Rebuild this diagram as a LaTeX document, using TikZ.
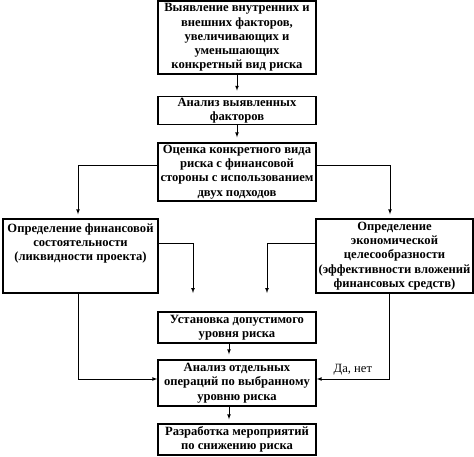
\documentclass[tikz,border=0pt]{standalone}
\usepackage{fontspec}
\setmainfont{Liberation Serif}
\usetikzlibrary{arrows,calc}
\tikzset{
  scheme/.style={
    block/.style={rectangle, draw, line width=1.4pt, align=center, inner sep=1.5pt,
        minimum width=158pt, font={\bfseries\fontsize{12.6}{14.2}\selectfont}},
    link/.style={line width=0.7pt, -latex, shorten >=5pt},
    side link/.style={line width=0.7pt, -latex},
    link label/.style={font={\fontsize{12.6}{14.2}\selectfont}},
  },
}

\begin{document}
\begin{tikzpicture}
[
    scheme,
    x=1pt, y=-1pt,
]
    \useasboundingbox (0,0) rectangle (474,456);
    % main column
    \node[block, minimum height=73pt] (reveal) at (237,37.5)
        {Выявление внутренних и\\ внешних факторов,\\ увеличивающих и\\ уменьшающих\\ конкретный вид риска};
    \node[block, minimum height=27pt] (analysis) at (237,110.5)
        {Анализ выявленных\\ факторов};
    \node[block, minimum height=58pt] (estimate) at (237,172)
        {Оценка конкретного вида\\ риска с финансовой\\ стороны с использованием\\ двух подходов};
    % two approaches
    \node[block, minimum width=155pt, minimum height=74pt] (solvency) at (80.5,256)
        {Определение финансовой\\ состоятельности\\ (ликвидности проекта)\\[14pt]\mbox{}};
    \node[block, minimum width=157pt, minimum height=74pt] (efficiency) at (394.5,256)
        {Определение\\ экономической\\ целесообразности\\ (эффективности вложений\\ финансовых средств)};
    \node[block, minimum height=31pt] (level) at (237,327.5)
        {Установка допустимого\\ уровня риска};
    \node[block, minimum height=46pt] (operations) at (237,383)
        {Анализ отдельных\\ операций по выбранному\\ уровню риска};
    \node[block, minimum height=31pt] (measures) at (237,439.5)
        {Разработка мероприятий\\ по снижению риска};
    \coordinate (lend) at (193,293);
    \coordinate (rend) at (267,293);

    \draw[link] (reveal) -- (analysis);
    \draw[link] (analysis) -- (estimate);
    \draw[link, shorten >=4pt] ([yshift=7pt]estimate.west) -| ([xshift=-2.5pt]solvency.north);
    \draw[link, shorten >=4pt] ([yshift=7pt]estimate.east) -| ([xshift=-4.5pt]efficiency.north);
    \draw[side link] ([yshift=13pt]solvency.east) -| (lend);
    \draw[side link] ([yshift=13pt]efficiency.west) -| (rend);
    \draw[link] ([xshift=-8pt]level.south) -- ([xshift=-8pt]operations.north);
    \draw[link, shorten >=4pt] ([xshift=-8pt]operations.south) -- ([xshift=-8pt]measures.north);
    \draw[side link] ([xshift=-2.5pt]solvency.south) |- ([yshift=4pt]operations.west);
    \draw[side link] ([xshift=-5.5pt]efficiency.south) |- node[link label, above, pos=0.75] {Да, нет} ([yshift=4pt]operations.east);
\end{tikzpicture}
\end{document}
